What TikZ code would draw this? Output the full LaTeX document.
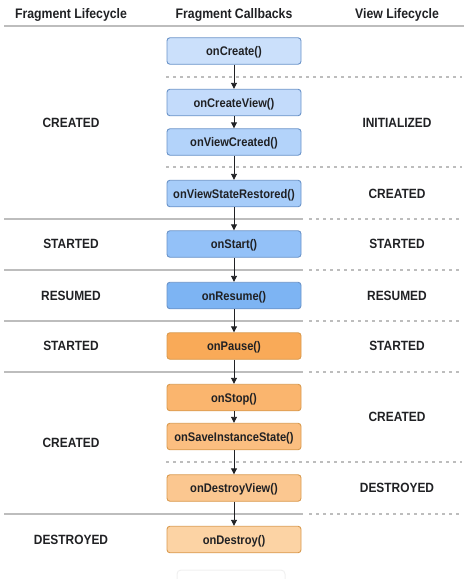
\documentclass[tikz,border=0pt]{standalone}
\usepackage{fontspec}
\setmainfont{Liberation Sans}[FakeStretch=0.89]
\usetikzlibrary{arrows.meta}
\definecolor{txt}{HTML}{202124}
\definecolor{rule}{HTML}{BDBDBD}
\definecolor{bA}{HTML}{CBE0FB}
\definecolor{bB}{HTML}{C3DBFB}
\definecolor{bC}{HTML}{B3D3FA}
\definecolor{bD}{HTML}{A6CCF9}
\definecolor{bE}{HTML}{93C1F8}
\definecolor{bF}{HTML}{7DB4F3}
\definecolor{bLine}{HTML}{6A93C8}
\definecolor{oA}{HTML}{F9AA58}
\definecolor{oB}{HTML}{FAB56E}
\definecolor{oC}{HTML}{FBBE80}
\definecolor{oD}{HTML}{FBC790}
\definecolor{oE}{HTML}{FCD3A4}
\definecolor{oLine}{HTML}{D99A4E}
\tikzset{
  cbox/.style 2 args={draw=#2, fill=#1, rounded corners=3pt, line width=0.9pt,
    minimum width=134pt, minimum height=26.5pt, inner sep=0pt,
    text height=9pt, text depth=0pt,
    font=\fontsize{12.5}{14}\selectfont\bfseries, text=txt},
  lbl/.style={inner sep=0pt, text height=9.6pt, text depth=0pt,
    font=\fontsize{13.4}{16}\selectfont\bfseries, text=txt},
  hdr/.style={inner sep=0pt, text height=9.8pt, text depth=0pt,
    font=\fontsize{13.8}{16}\selectfont\bfseries, text=txt},
  arr/.style={draw=txt, line width=0.9pt, -{Triangle[width=6pt,length=6pt]}},
  solidrule/.style={draw=rule, line width=1.2pt},
  dotrule/.style={draw=rule, line width=1.1pt, dash pattern=on 2.5pt off 4.5pt},
}
\begin{document}
\begin{tikzpicture}[x=1pt,y=-1pt]
\useasboundingbox (0,0) rectangle (474,579);
% headers
\node[hdr] (h1) at (71,13.5) {Fragment Lifecycle};
\node[hdr] (h2) at (234,13.5) {Fragment Callbacks};
\node[hdr] (h3) at (397,13.5) {View Lifecycle};
\draw[solidrule] (4,26) -- (464,26);
% separators
\draw[dotrule] (166,77) -- (462,77);
\draw[dotrule] (166,167) -- (462,167);
\draw[dotrule] (166,462) -- (462,462);
\foreach \yy in {219,270,321,372,514}{
  \draw[solidrule] (4,\yy) -- (303,\yy);
  \draw[dotrule] (309,\yy) -- (462,\yy);
}
% callbacks
\node[cbox={bA}{bLine}] (c1) at (234,51) {onCreate()};
\node[cbox={bB}{bLine}] (c2) at (234,102.5) {onCreateView()};
\node[cbox={bC}{bLine}] (c3) at (234,142) {onViewCreated()};
\node[cbox={bD}{bLine}] (c4) at (234,193.5) {onViewStateRestored()};
\node[cbox={bE}{bLine}] (c5) at (234,244) {onStart()};
\node[cbox={bF}{bLine}] (c6) at (234,295.5) {onResume()};
\node[cbox={oA}{oLine}] (c7) at (234,346) {onPause()};
\node[cbox={oB}{oLine}] (c8) at (234,397.5) {onStop()};
\node[cbox={oC}{oLine}] (c9) at (234,436.5) {onSaveInstanceState()};
\node[cbox={oD}{oLine}] (c10) at (234,488) {onDestroyView()};
\node[cbox={oE}{oLine}] (c11) at (234,539.5) {onDestroy()};
\foreach \a/\b in {c1/c2,c2/c3,c3/c4,c4/c5,c5/c6,c6/c7,c7/c8,c8/c9,c9/c10,c10/c11}{
  \draw[arr] (\a.south) -- (\b.north);
}
% fragment lifecycle
\node[lbl] (f1) at (71,123) {CREATED};
\node[lbl] (f2) at (71,244) {STARTED};
\node[lbl] (f3) at (71,295.5) {RESUMED};
\node[lbl] (f4) at (71,346) {STARTED};
\node[lbl] (f5) at (71,443) {CREATED};
\node[lbl] (f6) at (71,539.5) {DESTROYED};
% view lifecycle
\node[lbl] (v1) at (397,123) {INITIALIZED};
\node[lbl] (v2) at (397,193.5) {CREATED};
\node[lbl] (v3) at (397,244) {STARTED};
\node[lbl] (v4) at (397,295.5) {RESUMED};
\node[lbl] (v5) at (397,346) {STARTED};
\node[lbl] (v6) at (397,417) {CREATED};
\node[lbl] (v7) at (397,488) {DESTROYED};
% faint cut-off shape at bottom
\draw[draw=black!6, line width=1pt, rounded corners=4pt] (177,582) -- (177,570) -- (285,570) -- (285,582);
\end{tikzpicture}
\end{document}
